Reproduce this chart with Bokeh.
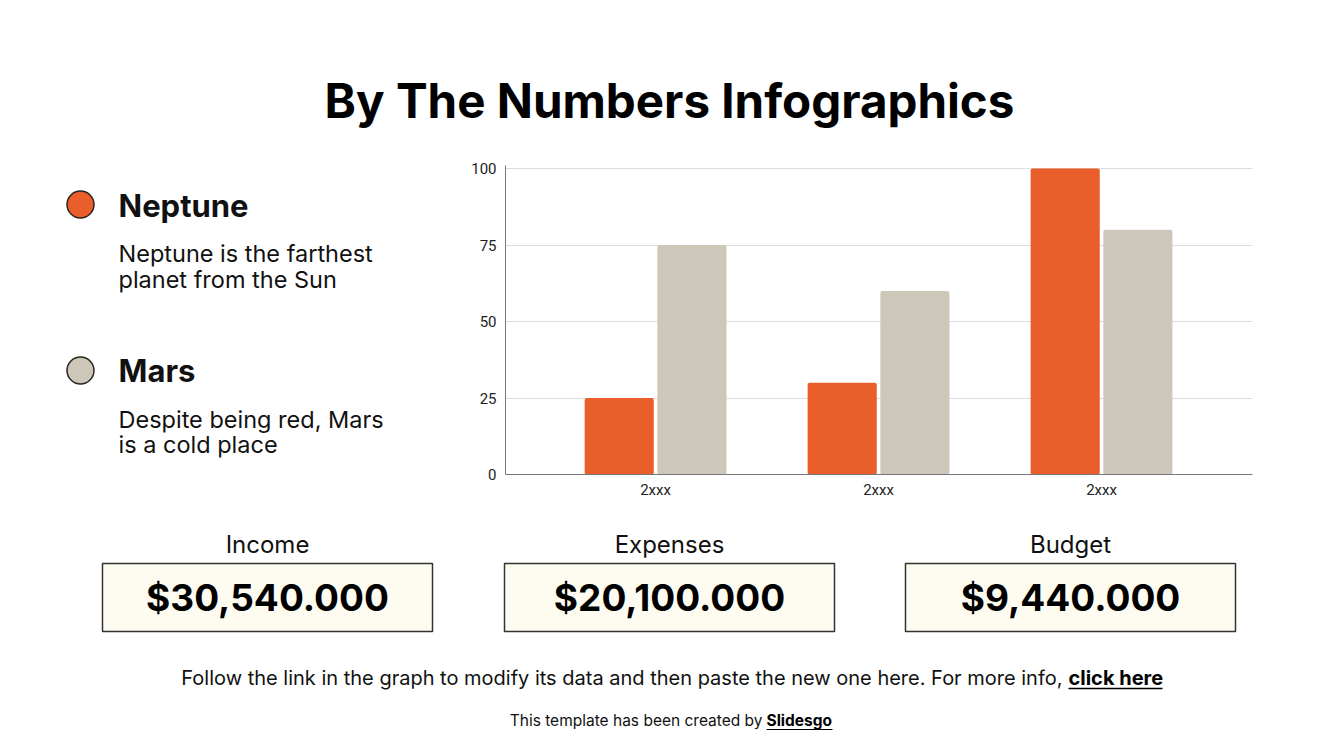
from bokeh.plotting import figure
from bokeh.layouts import column, row
from bokeh.models import Range1d, FixedTicker
from bokeh.core.properties import value
from bokeh.embed import file_html
from bokeh.resources import INLINE

# ---------------- data ----------------
categories = ["2xxx", "2xxx", "2xxx"]
neptune = [25, 30, 100]
mars = [75, 60, 80]
y_ticks = [0, 25, 50, 75, 100]

series_names = ["Neptune", "Mars"]
series_desc = [["Neptune is the farthest", "planet from the Sun"],
               ["Despite being red, Mars", "is a cold place"]]

box_labels = ["Income", "Expenses", "Budget"]
box_values = ["$30,540.000", "$20,100.000", "$9,440.000"]

title_text = "By The Numbers Infographics"
footer_main = "Follow the link in the graph to modify its data and then paste the new one here. For more info,"
footer_link = "click here"
credit_main = "This template has been created by"
credit_link = "Slidesgo"

ORANGE = "#E95E2A"
GRAY = "#CDC7BA"
FONT = "Inter"

# chart frame (page pixels) and row extent
ROW_TOP, ROW_BOTTOM = 150, 510
FRAME_TOP, FRAME_BOTTOM = 165, 474
BT, BB = FRAME_TOP - ROW_TOP, ROW_BOTTOM - FRAME_BOTTOM


def canvas(x0, x1, y0, y1, bt=0, bb=0, fy0=None, fy1=None):
    fy0 = y0 if fy0 is None else fy0
    fy1 = y1 if fy1 is None else fy1
    f = figure(width=x1 - x0, height=y1 - y0,
               x_range=Range1d(x0, x1), y_range=Range1d(fy1, fy0),
               output_backend="svg", toolbar_location=None,
               x_axis_location=None, y_axis_location=None,
               min_border_left=0, min_border_right=0,
               min_border_top=bt, min_border_bottom=bb)
    f.grid.visible = False
    f.outline_line_color = None
    f.background_fill_color = "white"
    f.border_fill_color = "white"
    return f


# ---------------- top: title ----------------
top = canvas(0, 1322, 0, ROW_TOP)
top.text(x=[669], y=[100], text=[title_text], text_font=value(FONT),
         text_font_style="bold", text_font_size="47.5px", text_align="center",
         text_baseline="middle", text_color="#000000")

# ---------------- left legend ----------------
left = canvas(0, 455, ROW_TOP, ROW_BOTTOM, BT, BB, FRAME_TOP, FRAME_BOTTOM)
leg_y = [204, 370]
desc_y = [[252.5, 278.5], [419, 444]]
left.circle(x=[80, 80], y=leg_y, radius=13.5, fill_color=[ORANGE, GRAY],
            line_color="#2b2420", line_width=1.5)
left.text(x=[118, 118], y=[205, 370], text=series_names, text_font=value(FONT),
          text_font_style="bold", text_font_size="31px", text_align="left",
          text_baseline="middle", text_color="#111111")
for i, lines in enumerate(series_desc):
    left.text(x=[118] * len(lines), y=desc_y[i],
              text=lines, text_font=value(FONT), text_font_size="23.5px",
              text_align="left", text_baseline="middle", text_color="#111111")

# ---------------- chart ----------------
xs = [i + 1 for i in range(len(categories))]
chart = figure(width=835, height=ROW_BOTTOM - ROW_TOP,
               x_range=Range1d(0.327, 3.677),
               y_range=Range1d(0, 101), output_backend="svg",
               toolbar_location=None, min_border_left=50, min_border_right=38,
               min_border_top=BT, min_border_bottom=BB)
chart.outline_line_color = None
chart.vbar(x=[x - 0.163 for x in xs], top=neptune, width=0.31, bottom=0,
           fill_color=ORANGE, line_color=None, border_radius=2)
chart.vbar(x=[x + 0.163 for x in xs], top=mars, width=0.31, bottom=0,
           fill_color=GRAY, line_color=None, border_radius=2)
chart.xgrid.visible = False
chart.ygrid.grid_line_color = "#DDDDDD"
chart.ygrid.ticker = FixedTicker(ticks=y_ticks)
chart.yaxis.ticker = FixedTicker(ticks=y_ticks)
chart.xaxis.ticker = FixedTicker(ticks=xs)
chart.xaxis.major_label_overrides = {x: c for x, c in zip(xs, categories)}
for ax in (chart.xaxis, chart.yaxis):
    ax.major_tick_line_color = None
    ax.minor_tick_line_color = None
    ax.major_tick_out = 0
    ax.major_tick_in = 0
    ax.minor_tick_out = 0
    ax.axis_line_color = "#777777"
    ax.major_label_text_font = "Roboto"
    ax.major_label_text_font_size = "15px"
    ax.major_label_text_color = "#222222"
chart.xaxis.major_label_standoff = 6
chart.yaxis.major_label_standoff = 9

right = canvas(1290, 1322, ROW_TOP, ROW_BOTTOM, BT, BB, FRAME_TOP, FRAME_BOTTOM)

# ---------------- bottom: boxes and footer ----------------
bottom = canvas(0, 1322, ROW_BOTTOM, 737)
box_left = [102, 504, 905]
box_w = 330
cx = [b + box_w / 2 for b in box_left]
bottom.quad(left=box_left, right=[b + box_w for b in box_left],
            top=[563] * 3, bottom=[631] * 3, fill_color="#FEFCF1",
            line_color="#333333", line_width=1.5)
bottom.text(x=cx, y=[544] * 3, text=box_labels, text_font=value(FONT),
            text_font_size="24px", text_align="center", text_baseline="middle",
            text_color="#111111")
bottom.text(x=cx, y=[597] * 3, text=box_values, text_font=value(FONT),
            text_font_style="bold", text_font_size="37px", text_align="center",
            text_baseline="middle", text_color="#000000")

bottom.text(x=[1062], y=[677], text=[footer_main], text_font=value(FONT),
            text_font_size="20px", text_align="right", text_baseline="middle",
            text_color="#111111")
bottom.text(x=[1068], y=[677], text=[footer_link], text_font=value(FONT),
            text_font_style="bold", text_font_size="20px", text_align="left",
            text_baseline="middle", text_color="#000000")
bottom.segment(x0=[1068], x1=[1162], y0=[688], y1=[688], line_color="#000000",
               line_width=1.5)

bottom.text(x=[762], y=[720], text=[credit_main], text_font=value(FONT),
            text_font_size="15.5px", text_align="right", text_baseline="middle",
            text_color="#111111")
bottom.text(x=[766], y=[720], text=[credit_link], text_font=value(FONT),
            text_font_style="bold", text_font_size="15.5px", text_align="left",
            text_baseline="middle", text_color="#000000")
bottom.segment(x0=[766], x1=[832], y0=[729], y1=[729], line_color="#000000",
               line_width=1.2)

layout = column(top, row(left, chart, right), bottom)
open("out.html", "w").write(file_html(layout, INLINE))
